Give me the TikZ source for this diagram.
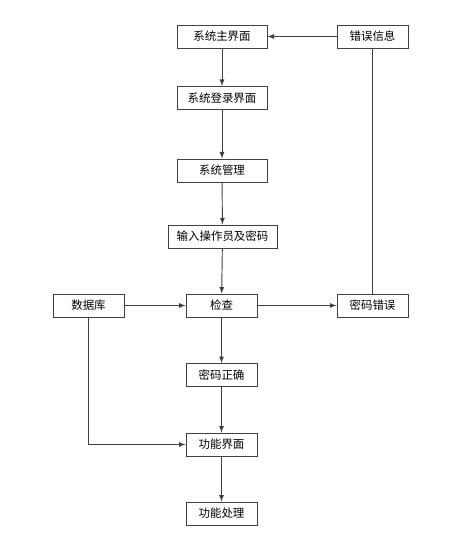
\documentclass[tikz,border=0pt]{standalone}
\usepackage{fontspec}
\newfontfamily\cjk{Noto Sans CJK SC}
\begin{document}
\begin{tikzpicture}[
    x=0.75pt, y=-0.75pt,
    box/.style={draw=black!75, line width=0.7pt, fill=white, minimum width=71*0.75pt, minimum height=23*0.75pt, inner sep=0pt, font=\cjk\fontsize{8.6}{10}\selectfont},
    arrow/.style={->, draw=black!75, line width=0.7pt, >=latex}
]
    \useasboundingbox (0,0) rectangle (474,548);

    \node[box, minimum width=90*0.75pt] (main) at (222,36.5) {系统主界面};
    \node[box] (info) at (372.5,36.5) {错误信息};
    \node[box, minimum width=90*0.75pt] (login) at (222,98) {系统登录界面};
    \node[box, minimum width=90*0.75pt] (manage) at (222,170.5) {系统管理};
    \node[box, minimum width=109*0.75pt] (input) at (222.5,236.5) {输入操作员及密码};
    \node[box] (db) at (88.5,305.5) {数据库};
    \node[box] (check) at (221.5,305.5) {检查};
    \node[box] (wrong) at (372.5,305.5) {密码错误};
    \node[box] (right) at (221.5,375) {密码正确};
    \node[box] (func) at (221.5,444.5) {功能界面};
    \node[box] (proc) at (221.5,513.5) {功能处理};

    \draw[arrow] (main) -- (login);
    \draw[arrow] (login) -- (manage);
    \draw[arrow] (manage) -- (input);
    \draw[arrow] (input) -- (check);
    \draw[arrow] (check) -- (right);
    \draw[arrow] (right) -- (func);
    \draw[arrow] (func) -- (proc);
    \draw[arrow] (db) -- (check);
    \draw[arrow] (check) -- (wrong);
    \draw[draw=black!75, line width=0.7pt] (wrong) -- (info);
    \draw[arrow] (info) -- (main);
    \draw[arrow] (db.south) |- (func.west);
\end{tikzpicture}
\end{document}
